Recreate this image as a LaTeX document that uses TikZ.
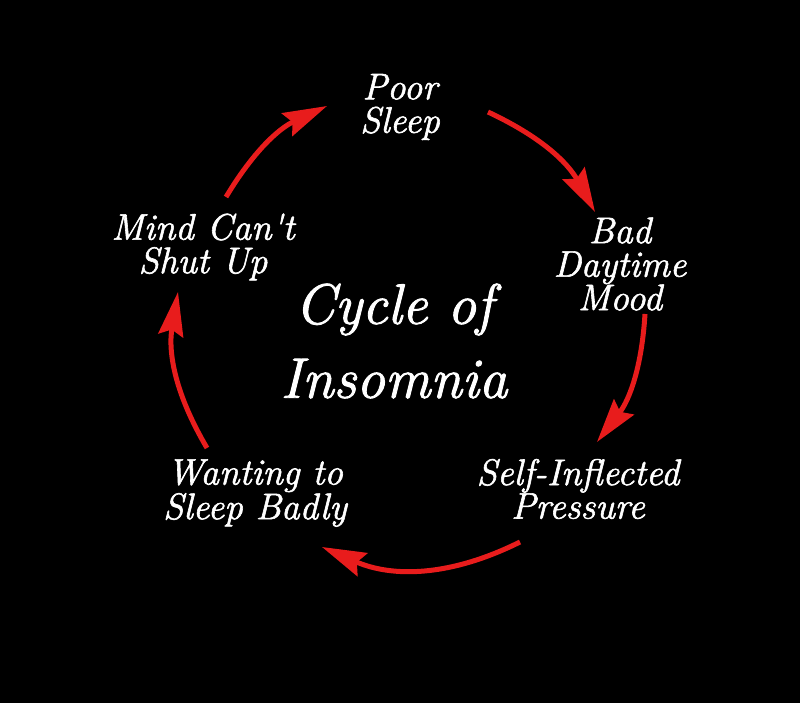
\documentclass[tikz,border=0pt]{standalone}
\usepackage{fontspec}
\setmainfont{Latin Modern Roman}[FakeBold=1.6]
\usetikzlibrary{arrows.meta}
\definecolor{arrred}{RGB}{232,28,28}
\begin{document}
\begin{tikzpicture}[x=1pt,y=1pt,
  lbl/.style={text=white, align=center, inner sep=0pt, font=\fontsize{37}{33.5}\selectfont\itshape},
  ttl/.style={text=white, align=center, inner sep=0pt, font=\fontsize{57}{74}\selectfont\itshape},
  arr/.style={draw=arrred, line width=5pt, -{Stealth[length=44pt, width=25pt, inset=6pt]}}]
\fill[black] (0,0) rectangle (800,-703);
\useasboundingbox (0,0) rectangle (800,-703);

\node[lbl] (poor) at (400,-107) {Poor\\Sleep};
\node[lbl] (bad) at (620,-264) {Bad\\Daytime\\Mood};
\node[lbl] (self) at (578,-489) {Self-Inflected\\Pressure};
\node[lbl] (want) at (255,-493) {Wanting to\\Sleep Badly};
\node[lbl] (mind) at (203,-247) {Mind Can\textquotesingle t\\Shut Up};
\node[ttl] (title) at (394,-341) {Cycle of\\Insomnia};

\coordinate (a1s) at (226,-197); \coordinate (a1e) at (327,-106);
\coordinate (a2s) at (488,-112); \coordinate (a2e) at (595,-212);
\coordinate (a3s) at (645,-314); \coordinate (a3e) at (597,-442);
\coordinate (a4s) at (520,-542); \coordinate (a4e) at (322,-547);
\coordinate (a5s) at (207,-448); \coordinate (a5e) at (178,-292);

\draw[arr] (a1s) to[bend left=17] (a1e);
\draw[arr] (a2s) to[bend left=18] (a2e);
\draw[arr] (a3s) to[bend left=17] (a3e);
\draw[arr] (a4s) to[bend left=25] (a4e);
\draw[arr] (a5s) to[bend left=20] (a5e);
\end{tikzpicture}
\end{document}
